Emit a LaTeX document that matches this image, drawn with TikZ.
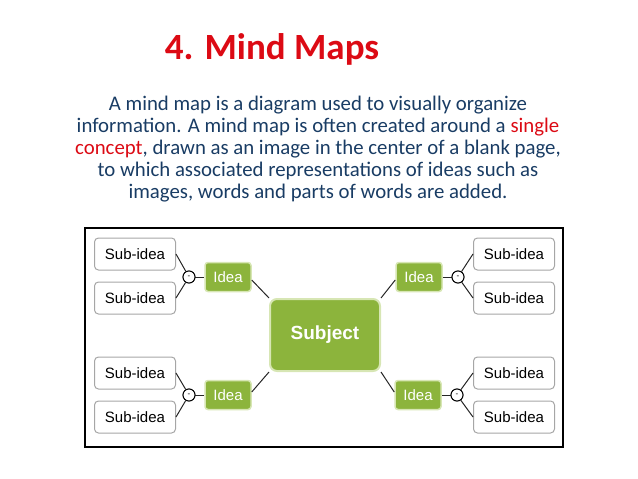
\documentclass[tikz,border=0pt]{standalone}
\usepackage{fontspec}
\setmainfont{Carlito}
\setsansfont{Liberation Sans}
\definecolor{ttl}{RGB}{220,10,20}
\definecolor{par}{RGB}{25,60,100}
\definecolor{grn}{RGB}{140,180,60}
\definecolor{grnb}{RGB}{215,230,180}
\begin{document}
\begin{tikzpicture}[x=1pt,y=-1pt,
  sub/.style={draw=black!35,line width=1pt,rounded corners=4pt,fill=white,minimum width=81pt,minimum height=32pt,font=\sffamily\fontsize{15}{15}\selectfont,inner sep=0pt},
  idea/.style={draw=grnb,line width=1.5pt,rounded corners=3pt,fill=grn,text=white,minimum width=46pt,minimum height=29pt,font=\sffamily\fontsize{15}{15}\selectfont,inner sep=0pt},
  knob/.style={circle,draw=black,line width=0.9pt,fill=white,minimum size=12pt,inner sep=0pt,font=\sffamily\fontsize{8}{8}\selectfont},
  con/.style={draw=black!85,line width=1pt}]
\useasboundingbox (0,0) rectangle (638,479);
\node[font=\bfseries\fontsize{37}{37}\selectfont,text=ttl] (title) at (272,49) {4. Mind Maps};
\node[align=center,text=par,font=\fontsize{20.8}{22}\selectfont] (para) at (318,149)
 {A mind map is a diagram used to visually organize\\
 information. A mind map is often created around a \textcolor{ttl}{single}\\
 \textcolor{ttl}{concept}, drawn as an image in the center of a blank page,\\
 to which associated representations of ideas such as\\
 images, words and parts of words are added.};
\node[draw=black,line width=1.2pt,minimum width=478pt,minimum height=219pt,inner sep=0pt] (frame) at (324,337.5) {};
\node[draw=grnb,line width=2pt,rounded corners=7pt,fill=grn,text=white,minimum width=110pt,minimum height=72pt,font=\sffamily\bfseries\fontsize{19}{19}\selectfont] (subj) at (325,335) {Subject};
\node[idea] (i1) at (228,277) {Idea};
\node[knob] (k1) at (189,277) {-};
\node[sub] (s1) at (135,254) {Sub-idea};
\node[sub] (s2) at (135,298) {Sub-idea};
\node[idea] (i2) at (228,395) {Idea};
\node[knob] (k2) at (189,395) {-};
\node[sub] (s3) at (135,373) {Sub-idea};
\node[sub] (s4) at (135,417) {Sub-idea};
\node[idea] (i3) at (419,277) {Idea};
\node[knob] (k3) at (458,277) {-};
\node[sub] (s5) at (514,254) {Sub-idea};
\node[sub] (s6) at (514,298) {Sub-idea};
\node[idea] (i4) at (418,395) {Idea};
\node[knob] (k4) at (457,395) {-};
\node[sub] (s7) at (514,373) {Sub-idea};
\node[sub] (s8) at (514,417) {Sub-idea};
\draw[con] (i1.east) ++(0,3) -- (subj.north west);
\draw[con] (i2.east) ++(0,-3) -- (subj.south west);
\draw[con] (i3.west) ++(0,3) -- (subj.north east);
\draw[con] (i4.west) ++(0,-3) -- (subj.south east);
\draw[con] (k1) -- (i1); \draw[con] (k2) -- (i2); \draw[con] (k3) -- (i3); \draw[con] (k4) -- (i4);
\draw[con] (k1) -- (s1.east); \draw[con] (k1) -- (s2.east);
\draw[con] (k2) -- (s3.east); \draw[con] (k2) -- (s4.east);
\draw[con] (k3) -- (s5.west); \draw[con] (k3) -- (s6.west);
\draw[con] (k4) -- (s7.west); \draw[con] (k4) -- (s8.west);
\node[knob] at (k1) {-}; \node[knob] at (k2) {-}; \node[knob] at (k3) {-}; \node[knob] at (k4) {-};
\end{tikzpicture}
\end{document}
